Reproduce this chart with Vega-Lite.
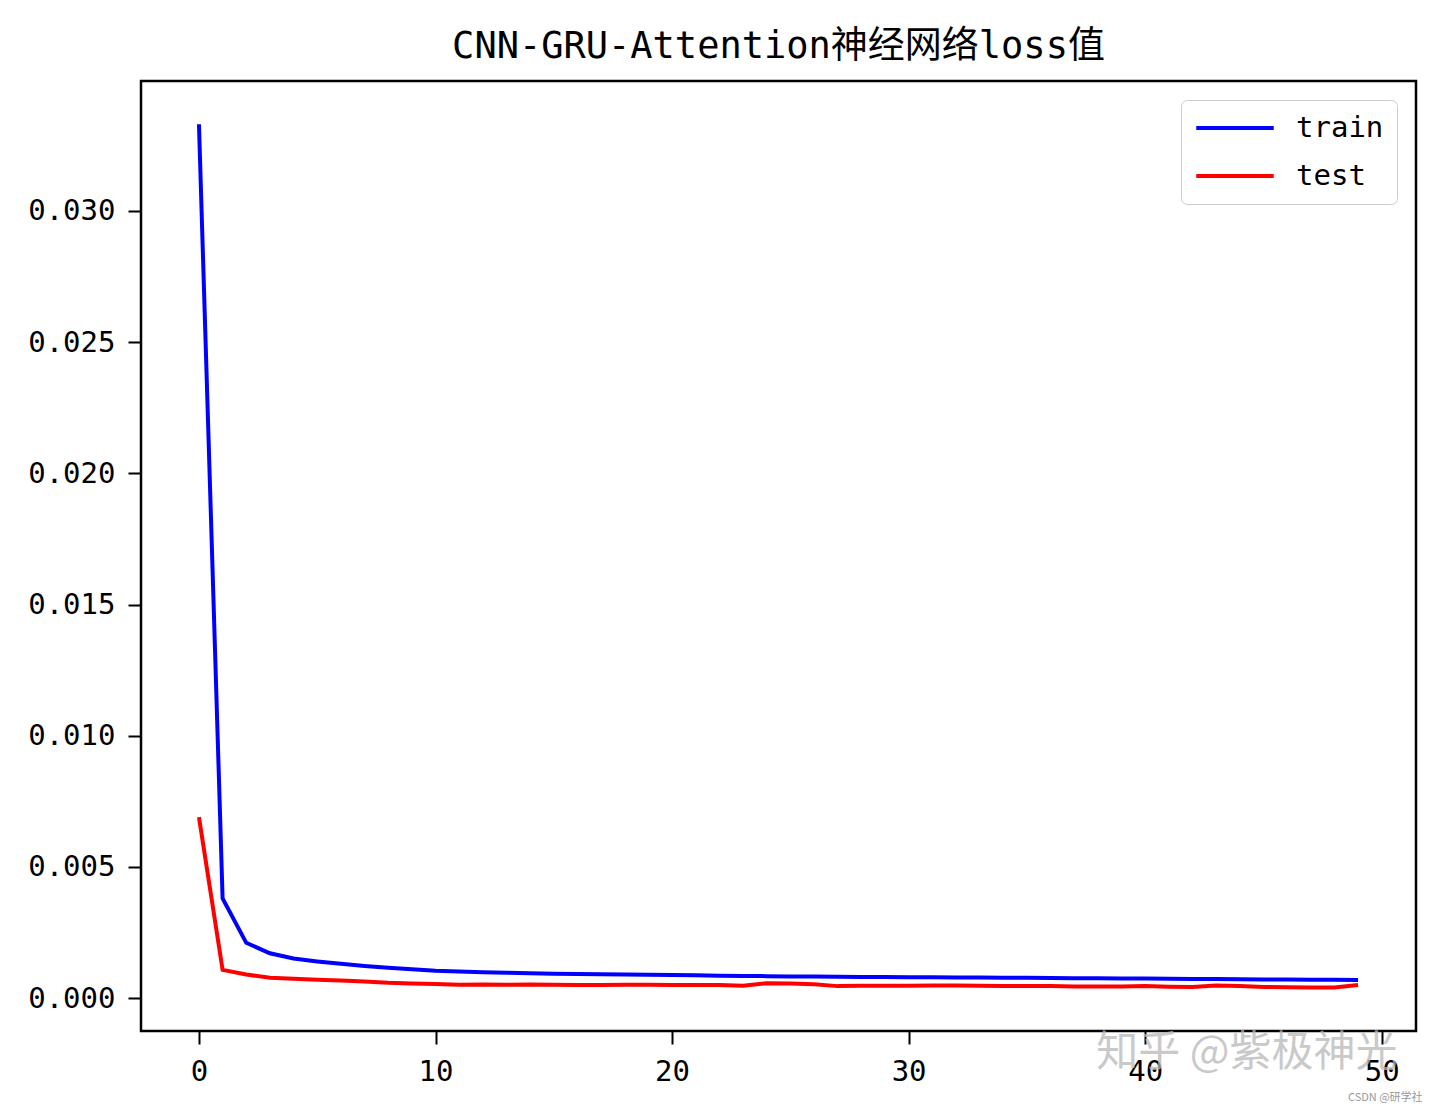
{
  "$schema": "https://vega.github.io/schema/vega-lite/v6.json",
  "autosize": {"type": "none"},
  "padding": {"left": 141, "top": 81, "right": 24, "bottom": 81},
  "width": 1275,
  "height": 950,
  "background": "white",
  "title": {
    "text": "CNN-GRU-Attention神经网络loss值",
    "font": "DejaVu Sans Mono, Noto Sans CJK SC",
    "fontSize": 37,
    "fontWeight": "normal",
    "color": "black",
    "offset": 15
  },
  "config": {
    "view": {"stroke": "black", "strokeWidth": 2.5},
    "axis": {
      "domain": false,
      "grid": false,
      "tickColor": "black",
      "tickWidth": 2,
      "tickSize": 13,
      "labelFont": "DejaVu Sans Mono",
      "labelFontSize": 29,
      "labelColor": "black",
      "labelPadding": 13,
      "title": null
    }
  },
  "data": {
    "values": [
      {"epoch": 0, "train": 0.0333, "test": 0.0069},
      {"epoch": 1, "train": 0.0038, "test": 0.00108},
      {"epoch": 2, "train": 0.00211, "test": 0.0009},
      {"epoch": 3, "train": 0.00171, "test": 0.00078},
      {"epoch": 4, "train": 0.00151, "test": 0.00074},
      {"epoch": 5, "train": 0.0014, "test": 0.0007},
      {"epoch": 6, "train": 0.00131, "test": 0.00067},
      {"epoch": 7, "train": 0.00123, "test": 0.00064},
      {"epoch": 8, "train": 0.00116, "test": 0.00059},
      {"epoch": 9, "train": 0.0011, "test": 0.00056},
      {"epoch": 10, "train": 0.00105, "test": 0.00054},
      {"epoch": 11, "train": 0.00102, "test": 0.00051},
      {"epoch": 12, "train": 0.00099, "test": 0.00052},
      {"epoch": 13, "train": 0.00097, "test": 0.00051},
      {"epoch": 14, "train": 0.00095, "test": 0.00052},
      {"epoch": 15, "train": 0.00093, "test": 0.00051},
      {"epoch": 16, "train": 0.00092, "test": 0.0005},
      {"epoch": 17, "train": 0.00091, "test": 0.0005},
      {"epoch": 18, "train": 0.0009, "test": 0.00051},
      {"epoch": 19, "train": 0.00089, "test": 0.00051},
      {"epoch": 20, "train": 0.00088, "test": 0.0005},
      {"epoch": 21, "train": 0.00087, "test": 0.0005},
      {"epoch": 22, "train": 0.00086, "test": 0.0005},
      {"epoch": 23, "train": 0.00085, "test": 0.00047},
      {"epoch": 24, "train": 0.00084, "test": 0.00057},
      {"epoch": 25, "train": 0.00083, "test": 0.00056},
      {"epoch": 26, "train": 0.00083, "test": 0.00053},
      {"epoch": 27, "train": 0.00082, "test": 0.00046},
      {"epoch": 28, "train": 0.00081, "test": 0.00047},
      {"epoch": 29, "train": 0.00081, "test": 0.00047},
      {"epoch": 30, "train": 0.0008, "test": 0.00047},
      {"epoch": 31, "train": 0.0008, "test": 0.00048},
      {"epoch": 32, "train": 0.00079, "test": 0.00048},
      {"epoch": 33, "train": 0.00079, "test": 0.00047},
      {"epoch": 34, "train": 0.00078, "test": 0.00046},
      {"epoch": 35, "train": 0.00078, "test": 0.00046},
      {"epoch": 36, "train": 0.00077, "test": 0.00046},
      {"epoch": 37, "train": 0.00076, "test": 0.00045},
      {"epoch": 38, "train": 0.00076, "test": 0.00045},
      {"epoch": 39, "train": 0.00075, "test": 0.00045},
      {"epoch": 40, "train": 0.00075, "test": 0.00046},
      {"epoch": 41, "train": 0.00074, "test": 0.00044},
      {"epoch": 42, "train": 0.00073, "test": 0.00043},
      {"epoch": 43, "train": 0.00073, "test": 0.00048},
      {"epoch": 44, "train": 0.00072, "test": 0.00046},
      {"epoch": 45, "train": 0.00071, "test": 0.00043},
      {"epoch": 46, "train": 0.00071, "test": 0.00042},
      {"epoch": 47, "train": 0.0007, "test": 0.00041},
      {"epoch": 48, "train": 0.0007, "test": 0.00041},
      {"epoch": 49, "train": 0.00069, "test": 0.0005}
    ]
  },
  "layer": [
    {
      "transform": [{"fold": ["train", "test"], "as": ["series", "loss"]}],
      "mark": {"type": "line", "strokeWidth": 4, "clip": true},
      "encoding": {
        "x": {
          "field": "epoch",
          "type": "quantitative",
          "scale": {"domain": [-2.45, 51.45], "nice": false, "zero": false},
          "axis": {"values": [0, 10, 20, 30, 40, 50]}
        },
        "y": {
          "field": "loss",
          "type": "quantitative",
          "scale": {"domain": [-0.00125, 0.03495], "nice": false, "zero": false},
          "axis": {"values": [0, 0.005, 0.01, 0.015, 0.02, 0.025, 0.03], "format": ".3f"}
        },
        "color": {
          "field": "series",
          "type": "nominal",
          "scale": {"domain": ["train", "test"], "range": ["#0000ff", "#ff0000"]},
          "legend": {
            "title": null,
            "orient": "top-right",
            "offset": 19,
            "symbolType": "stroke",
            "symbolSize": 6000,
            "symbolStrokeWidth": 4,
            "clipHeight": 30,
            "labelFont": "DejaVu Sans Mono",
            "labelFontSize": 29,
            "labelColor": "black",
            "labelOffset": 20,
            "rowPadding": 18,
            "padding": 13,
            "strokeColor": "#cccccc",
            "cornerRadius": 6,
            "fillColor": "white"
          }
        },
        "order": {"field": "epoch"}
      }
    },
    {
      "data": {"values": [{"label": "知乎 @紫极神光"}]},
      "mark": {"type": "text", "fontSize": 42, "font": "Noto Sans CJK SC", "color": "#b8b8b8", "opacity": 0.75, "clip": false},
      "encoding": {
        "x": {"datum": 44.3, "type": "quantitative"},
        "y": {"datum": -0.0021, "type": "quantitative"},
        "text": {"field": "label"}
      }
    },
    {
      "data": {"values": [{"label": "CSDN @研学社"}]},
      "mark": {"type": "text", "fontSize": 11, "font": "Noto Sans CJK SC", "color": "#999999", "clip": false},
      "encoding": {
        "x": {"datum": 50.15, "type": "quantitative"},
        "y": {"datum": -0.0038, "type": "quantitative"},
        "text": {"field": "label"}
      }
    }
  ]
}
